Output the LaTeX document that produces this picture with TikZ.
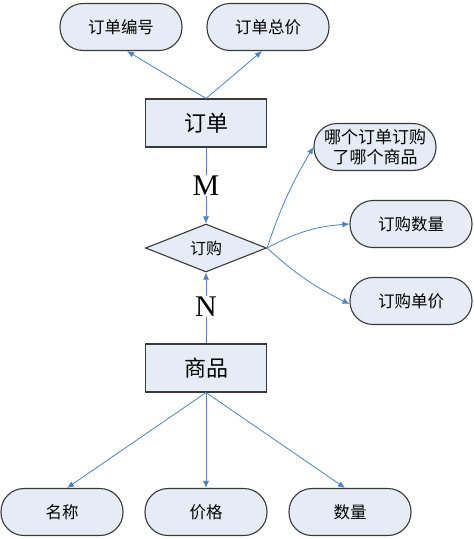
\documentclass[tikz,border=0pt]{standalone}
\usepackage{fontspec}
\setmainfont{Liberation Serif}
\newfontfamily\cjk{Noto Sans CJK SC}
\usetikzlibrary{shapes.geometric,arrows.meta}
\definecolor{fillc}{HTML}{E6ECF6}
\definecolor{linec}{HTML}{4F81BD}
\definecolor{edgec}{HTML}{3A3A3A}
\tikzset{
  attr/.style={draw=edgec,line width=1.1pt,fill=fillc,rounded corners=23pt,minimum width=122pt,minimum height=47pt,inner sep=0pt,font=\cjk\fontsize{16.5}{18}\selectfont,align=center},
  ent/.style={draw=edgec,line width=1.1pt,fill=fillc,minimum width=121pt,minimum height=48pt,inner sep=0pt,font=\cjk\fontsize{22}{24}\selectfont},
  rel/.style={diamond,draw=edgec,line width=1.1pt,fill=fillc,aspect=2.5,minimum width=121pt,minimum height=48pt,inner sep=0pt,font=\cjk\fontsize{16}{17}\selectfont},
  conn/.style={draw=linec,line width=0.8pt,-{Latex[length=7pt,width=6pt]}},
  card/.style={fill=white,inner sep=1pt,font=\fontsize{30}{32}\selectfont}
}
\begin{document}
\begin{tikzpicture}[x=1pt,y=-1pt]
\useasboundingbox (0,0) rectangle (474,539);
\node[attr] (bh) at (121,27) {订单编号};
\node[attr] (zj) at (268,27) {订单总价};
\node[ent] (dd) at (206,123) {订单};
\node[rel] (dg) at (206,248) {订购};
\node[ent] (sp) at (206,368) {商品};
\node[attr,font=\cjk\fontsize{17}{20}\selectfont] (which) at (375,147) {哪个订单订购\\了哪个商品};
\node[attr] (sl) at (411,224) {订购数量};
\node[attr] (dj) at (411,301) {订购单价};
\node[attr] (mc) at (62,512) {名称};
\node[attr] (jg) at (206,512) {价格};
\node[attr] (shl) at (350,512) {数量};
\draw[conn] (dd.north) -- ([xshift=6pt]bh.south);
\draw[conn] (dd.north) -- ([xshift=-6pt]zj.south);
\draw[conn] (dd.south) -- (dg.north) node[card,pos=0.5] (M) {M};
\draw[conn] (sp.north) -- (dg.south) node[card,pos=0.52] (N) {N};
\draw[conn] (dg.east) to[bend left=6] (which.west);
\draw[conn] (dg.east) to[bend left=12] (sl.west);
\draw[conn] (dg.east) to[bend left=-8] ([yshift=-3pt]dj.west);
\draw[conn] (sp.south) -- ([xshift=5pt]mc.north);
\draw[conn] (sp.south) -- (jg.north);
\draw[conn] (sp.south) -- ([xshift=-5pt]shl.north);
\end{tikzpicture}
\end{document}
